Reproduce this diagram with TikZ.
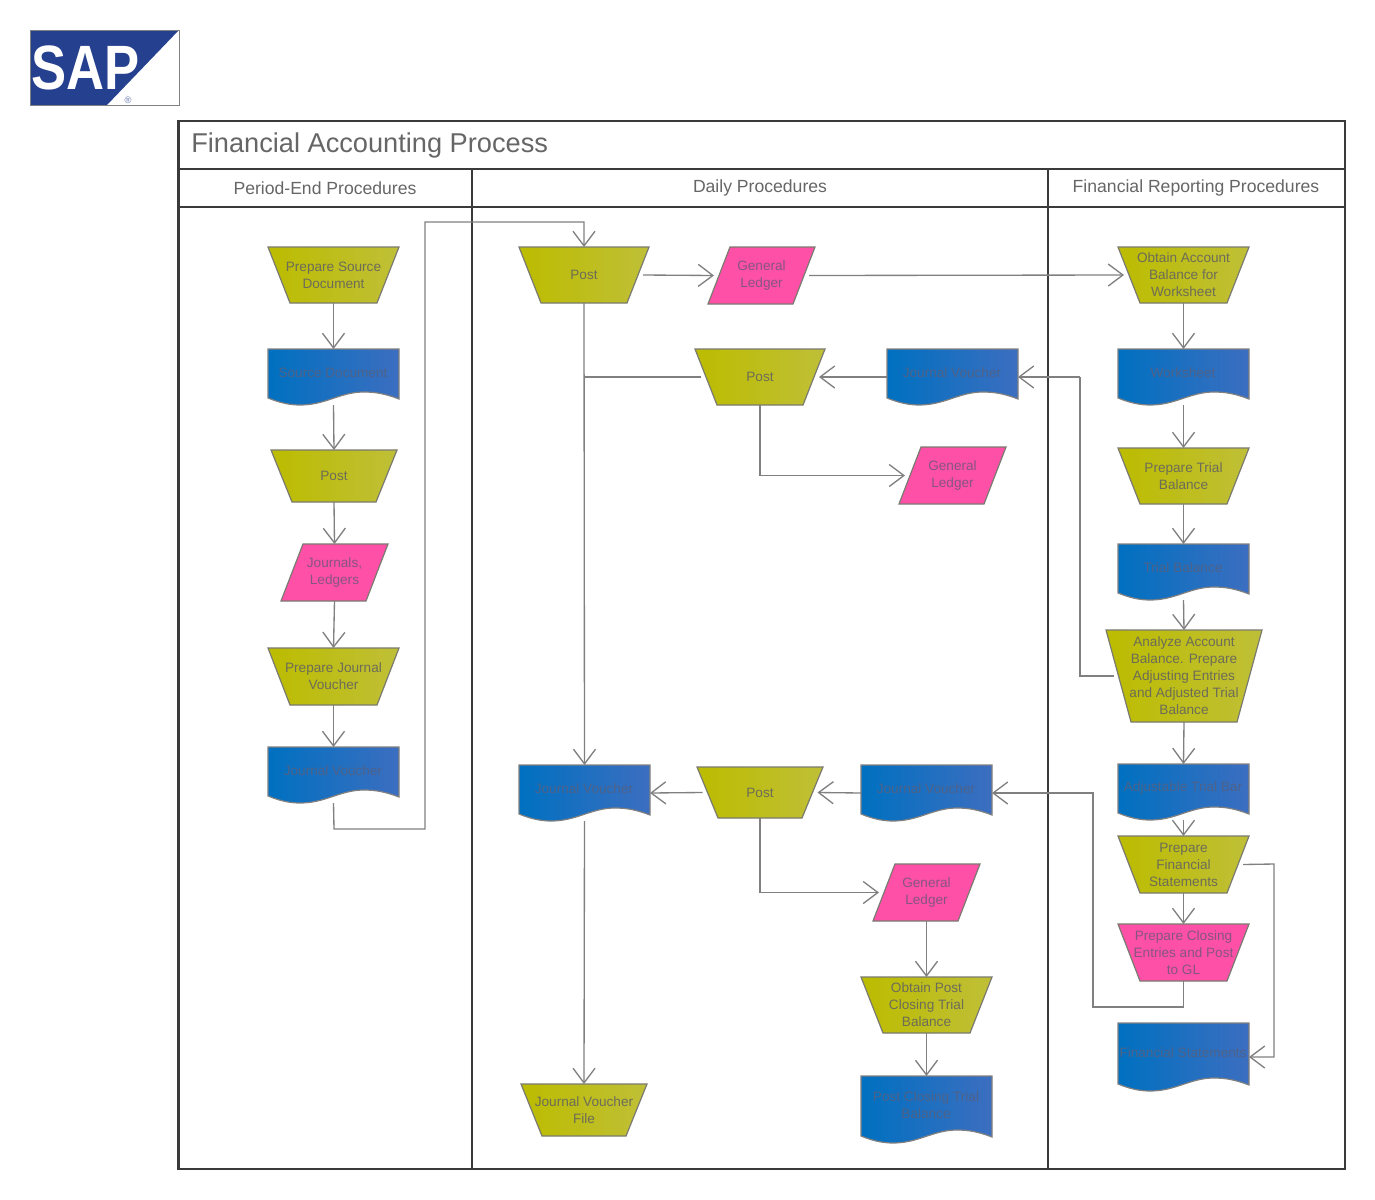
\documentclass[tikz,border=0pt]{standalone}
\usepackage{fontspec}
\setmainfont{Liberation Sans}
\usetikzlibrary{arrows.meta}
\definecolor{frameC}{HTML}{3A3A3A}
\definecolor{lineC}{HTML}{808080}
\definecolor{edgeC}{HTML}{7A7A70}
\definecolor{oliveL}{HTML}{BCBC00}
\definecolor{oliveR}{HTML}{BFBF38}
\definecolor{blueL}{HTML}{0070C0}
\definecolor{blueR}{HTML}{3C6EC0}
\definecolor{pinkF}{HTML}{FF50A8}
\definecolor{sapBlue}{HTML}{25408F}
\definecolor{txtC}{HTML}{666666}
\definecolor{txtO}{HTML}{6C6C58}
\definecolor{txtB}{HTML}{4E6288}
\definecolor{txtP}{HTML}{85557F}
\tikzset{
  x=0.75pt,y=-0.75pt,
  framebox/.style={draw=frameC,line width=1.9pt},
  olivefill/.style={left color=oliveL,right color=oliveR,draw=edgeC,line width=0.9pt},
  bluefill/.style={left color=blueL,right color=blueR,draw=lineC,line width=0.9pt},
  pinkfill/.style={fill=pinkF,draw=edgeC,line width=0.9pt},
  anchorbox/.style={inner sep=0pt,outer sep=0pt,draw=none},
  labeltext/.style={inner sep=0pt,align=center,font=\fontsize{10.2}{12.75}\selectfont},
  conn/.style={draw=lineC,line width=1pt,line join=miter},
  flow/.style={conn,-{Straight Barb[length=11pt,width=16.5pt,line width=1pt]}},
}
% name, x0, x1, top, bottom, inset, fill style, text colour, text
\newcommand{\trapshape}[9]{%
  \path[#7] (#2,#4) -- (#3,#4) -- ({#3-#6},#5) -- ({#2+#6},#5) -- cycle;
  \node[anchorbox,labeltext,text=#8,minimum width={(#3-#2)*0.75pt},minimum height={(#5-#4)*0.75pt}] (#1) at ({(#2+#3)/2},{(#4+#5)/2}) {#9};
  \coordinate (#1-l) at ({#2+#6/2-5},{(#4+#5)/2});
  \coordinate (#1-r) at ({#3-#6/2+5},{(#4+#5)/2});
}
% name, x0, x1, top, bottom, text
\newcommand{\parashape}[6]{%
  \path[pinkfill] ({#2+22},#4) -- (#3,#4) -- ({#3-22},#5) -- (#2,#5) -- cycle;
  \node[anchorbox,labeltext,text=txtP,minimum width={(#3-#2)*0.75pt},minimum height={(#5-#4)*0.75pt}] (#1) at ({(#2+#3)/2},{(#4+#5)/2}) {#6};
  \coordinate (#1-l) at ({#2+11-5},{(#4+#5)/2});
  \coordinate (#1-r) at ({#3-11+5},{(#4+#5)/2});
}
% name, x0, top, left side height, text
\newcommand{\docshape}[5]{%
  \path[bluefill] (#2,#3) -- ({#2+131},#3) -- ({#2+131},{#3+#4+1})
    .. controls ({#2+118},{#3+#4-4}) and ({#2+108},{#3+#4-6}) .. ({#2+96},{#3+#4-6})
    .. controls ({#2+72},{#3+#4-6}) and ({#2+58},{#3+#4+7}) .. ({#2+32},{#3+#4+7})
    .. controls ({#2+20},{#3+#4+7}) and ({#2+10},{#3+#4+4}) .. (#2,{#3+#4}) -- cycle;
  \node[anchorbox,minimum width={131*0.75pt},minimum height={(#4+7)*0.75pt}] (#1) at ({#2+65.5},{#3+(#4+7)/2}) {};
  \node[labeltext,text=txtB] (#1-t) at ({#2+65},{#3+(#4+7)/2-4.5}) {#5};
}
\begin{document}
\begin{tikzpicture}
\useasboundingbox (0,0) rectangle (1375,1200);
\fill[white] (0,0) rectangle (1375,1200);

% logo
\fill[sapBlue] (30,30) -- (179,30) -- (107,105) -- (30,105) -- cycle;
\draw[lineC,line width=1.2pt] (30.5,30.5) rectangle (179.5,105.5);
\node[inner sep=0pt,text=white,xscale=0.84,font=\bfseries\fontsize{47}{47}\selectfont] (saptext) at (86,68) {SAP};
\node[inner sep=0pt,text=sapBlue!70!white,font=\fontsize{7}{7}\selectfont] (sapreg) at (128,100) {®};

% frame
\draw[framebox] (178.5,121) rectangle (1345,1169);
\draw[framebox] (178.5,169) -- (1345,169);
\draw[framebox] (178.5,207) -- (1345,207);
\draw[framebox] (472,169) -- (472,1169);
\draw[framebox] (1048,169) -- (1048,1169);
\node[anchor=west,inner sep=0pt,text=txtC,font=\fontsize{20.4}{24}\selectfont] (title) at (191,145) {Financial Accounting Process};
\node[inner sep=0pt,text=txtC,font=\fontsize{13.2}{16}\selectfont] (hA) at (325,188) {Period-End Procedures};
\node[inner sep=0pt,text=txtC,font=\fontsize{13.2}{16}\selectfont] (hB) at (760,188) {Daily Procedures};
\node[inner sep=0pt,text=txtC,font=\fontsize{13.2}{16}\selectfont] (hC) at (1196,188) {Financial Reporting Procedures};

% left column
\trapshape{psd}{268}{399}{247}{303}{22}{olivefill}{txtO}{Prepare Source\\Document}
\docshape{sd}{268}{349}{49}{Source Document}
\trapshape{postA}{271}{397}{450}{502}{21}{olivefill}{txtO}{Post}
\parashape{jl}{281}{388}{544}{601}{Journals,\\Ledgers}
\trapshape{pjv}{268}{399}{648}{705}{22}{olivefill}{txtO}{Prepare Journal\\Voucher}
\docshape{jvA}{268}{747}{49}{Journal Voucher}

% middle column
\trapshape{postB}{519}{649}{247}{303}{22}{olivefill}{txtO}{Post}
\parashape{glA}{708}{815}{247}{304}{General\\Ledger}
\trapshape{postC}{695}{825}{349}{405}{22}{olivefill}{txtO}{Post}
\docshape{jvB}{887}{349}{49}{Journal Voucher}
\parashape{glB}{899}{1006}{447}{504}{General\\Ledger}
\docshape{jvC}{519}{765}{49}{Journal Voucher}
\trapshape{postD}{697}{823}{767}{818}{21}{olivefill}{txtO}{Post}
\docshape{jvD}{861}{765}{49}{Journal Voucher}
\parashape{glC}{873}{980}{864}{921}{General\\Ledger}
\trapshape{opc}{861}{992}{977}{1033}{22}{olivefill}{txtO}{Obtain Post\\Closing Trial\\Balance}
\docshape{pctb}{861}{1076}{60}{Post Closing Trial\\Balance}
\trapshape{jvf}{521}{647}{1084}{1136}{21}{olivefill}{txtO}{Journal Voucher\\File}

% right column
\trapshape{oab}{1118}{1249}{247}{303}{22}{olivefill}{txtO}{Obtain Account\\Balance for\\Worksheet}
\docshape{ws}{1118}{349}{49}{Worksheet}
\trapshape{ptb}{1118}{1249}{448}{504}{22}{olivefill}{txtO}{Prepare Trial\\Balance}
\docshape{tb}{1118}{544}{49}{Trial Balance}
\trapshape{ana}{1106}{1262}{630}{722}{25}{olivefill}{txtO}{Analyze Account\\Balance. Prepare\\Adjusting Entries\\and Adjusted Trial\\Balance}
\docshape{atb}{1118}{764}{49}{Adjustable Trial Bar}
\trapshape{pfs}{1118}{1249}{836}{893}{22}{olivefill}{txtO}{Prepare\\Financial\\Statements}
\trapshape{pce}{1118}{1249}{924}{981}{22}{pinkfill}{txtP}{Prepare Closing\\Entries and Post\\to GL}
\docshape{fs}{1118}{1023}{61}{Financial Statements}

% bend points
\coordinate (bendA) at (334,829);
\coordinate (bendB) at (425,222);
\coordinate (busJ) at (1080,377);
\coordinate (busK) at (1093,793);
\coordinate (bendC) at (1093,1007);
\coordinate (busR) at (1274,864);

% connectors
\draw[flow] (psd.south) -- (sd.north);
\draw[flow] (sd.south) -- (postA.north);
\draw[flow] (postA.south) -- (jl.north);
\draw[flow] (jl.south) -- (pjv.north);
\draw[flow] (pjv.south) -- (jvA.north);
\draw[flow] (jvA.south) -- (bendA) -- (bendA -| bendB) -- (bendB) -- (bendB -| postB) -- (postB.north);
\draw[flow] (postB-r) -- (glA-l);
\draw[flow] (glA-r) -- (oab-l);
\draw[flow] (postB.south) -- (jvC.north);
\draw[conn] (postB.south |- postC-l) -- (postC-l);
\draw[flow] (jvB.west) -- (postC-r);
\draw[flow] (postC.south) |- (glB-l);
\draw[flow] (busJ) -- (jvB.east);
\draw[conn] (ana-l) -- (ana-l -| busJ) -- (busJ);
\draw[flow] (oab.south) -- (ws.north);
\draw[flow] (ws.south) -- (ptb.north);
\draw[flow] (ptb.south) -- (tb.north);
\draw[flow] (tb.south) -- (ana.north);
\draw[flow] (ana.south) -- (atb.north);
\draw[flow] (atb.south) -- (pfs.north);
\draw[flow] (pfs.south) -- (pce.north);
\draw[flow] (pce.south) -- (pce.south |- bendC) -- (bendC) -- (busK) -- (jvD.east);
\draw[flow] (pfs-r) -- (busR) -- (busR |- fs.east) -- (fs.east);
\draw[flow] (jvD.west) -- (postD-r);
\draw[flow] (postD-l) -- (jvC.east);
\draw[flow] (postD.south) |- (glC-l);
\draw[flow] (glC.south) -- (opc.north);
\draw[flow] (opc.south) -- (pctb.north);
\draw[flow] (jvC.south) -- (jvf.north);
\end{tikzpicture}
\end{document}
